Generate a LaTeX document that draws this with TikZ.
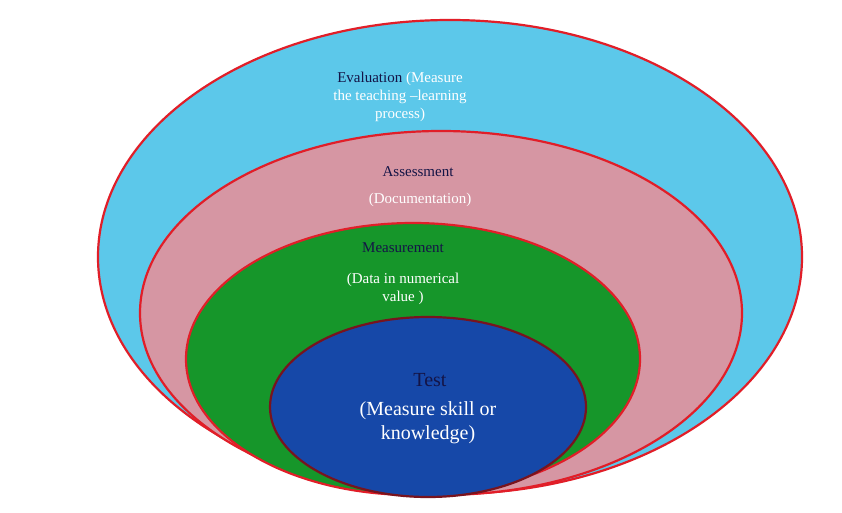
\documentclass[tikz,border=0pt]{standalone}
\usepackage{fontspec}
\setmainfont{Liberation Serif}
\definecolor{cy}{RGB}{92,200,234}
\definecolor{pk}{RGB}{214,150,163}
\definecolor{gr}{RGB}{22,150,42}
\definecolor{bl}{RGB}{22,72,168}
\definecolor{rd}{RGB}{225,30,40}
\definecolor{dk}{RGB}{120,20,30}
\definecolor{nv}{RGB}{20,20,70}
\tikzset{ring/.style={draw=rd,line width=2.2pt},
lbl/.style={font=\fontsize{15}{18}\selectfont,align=center,inner sep=0pt},
big/.style={font=\fontsize{20}{24}\selectfont,align=center,inner sep=0pt}}
\begin{document}
\begin{tikzpicture}[x=1pt,y=-1pt]
\useasboundingbox[fill=white] (0,0) rectangle (842,513);
\fill[cy,ring] (450,257) ellipse [x radius=352,y radius=237] coordinate (e1);
\fill[pk,ring] (441,313) ellipse [x radius=301,y radius=182] coordinate (e2);
\fill[gr,ring] (413,359) ellipse [x radius=227,y radius=136] coordinate (e3);
\fill[bl,draw=dk,line width=2.2pt] (428,407) ellipse [x radius=158,y radius=90] coordinate (e4);
\node[lbl] (t1) at (400,97) {\textcolor{nv}{Evaluation} \textcolor{white}{(Measure}\\\textcolor{white}{the teaching –learning}\\\textcolor{white}{process)}};
\node[lbl,text=nv] (t2) at (418,172) {Assessment};
\node[lbl,text=white] (t2b) at (420,200) {(Documentation)};
\node[lbl,text=nv] (t3) at (403,248) {Measurement};
\node[lbl,text=white] (t3b) at (403,289) {(Data in numerical\\value )};
\node[big,text=nv] (t4) at (430,380) {Test};
\node[big,text=white] (t4b) at (428,423) {(Measure skill or\\knowledge)};
\end{tikzpicture}
\end{document}
